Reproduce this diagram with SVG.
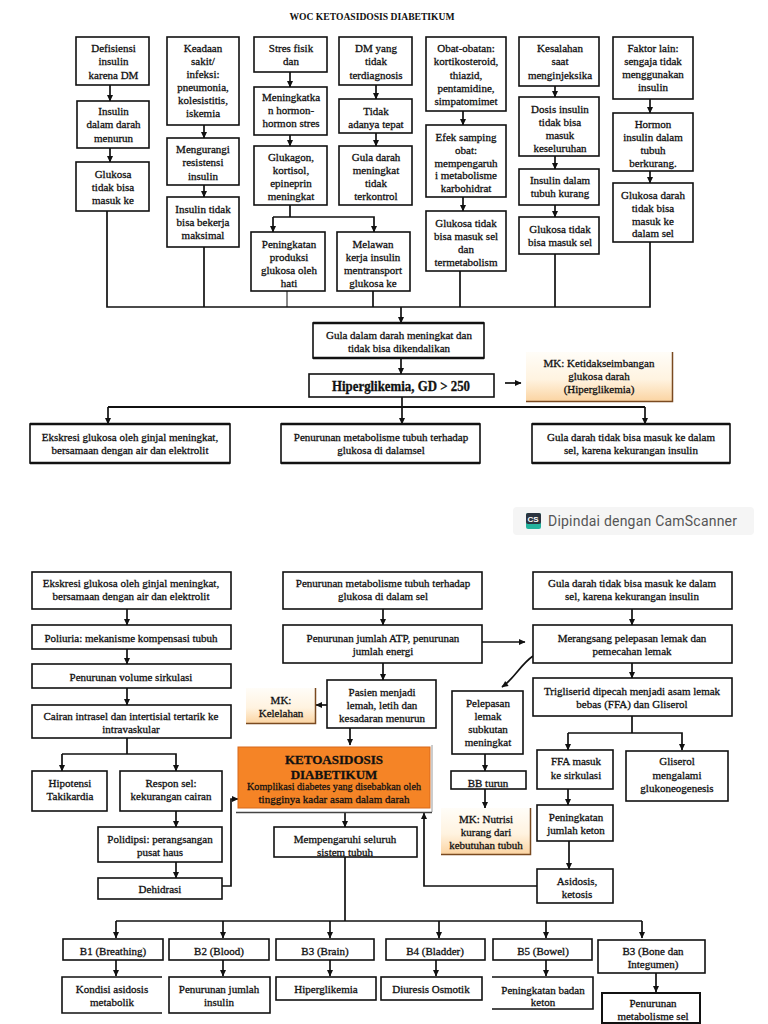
<svg xmlns="http://www.w3.org/2000/svg" width="768" height="1024" viewBox="0 0 768 1024">
<style>
text{font-family:"Liberation Serif","Times New Roman",serif;font-size:11px;fill:#111;text-anchor:middle;stroke:#111;stroke-width:.3}
.b{fill:#fff;stroke:#111;stroke-width:1.6}
.o{fill:none;stroke:#111;stroke-width:1.6}
.th{fill:none;stroke:#111;stroke-width:2.6}
.c{fill:none;stroke:#111;stroke-width:1.7}
.a{marker-end:url(#ah)}
.h{font-size:14px;font-weight:bold}
.k{font-size:13px;font-weight:bold}
.m{fill:url(#mk);stroke:none}
.ms{fill:none;stroke:#7a4a20;stroke-width:1.5}
.t{font-size:11px;font-weight:bold;stroke-width:0}
.cs{font-family:Roboto,"Liberation Sans",sans-serif;font-size:14px;fill:#555;stroke:none;text-anchor:start}
</style>
<defs>
<marker id="ah" markerUnits="userSpaceOnUse" markerWidth="8" markerHeight="8" refX="6.5" refY="4" orient="auto"><path d="M0.5 1L7 4L0.5 7Z" fill="#111"/></marker>
<linearGradient id="mk" x1="0" y1="0" x2="0" y2="1"><stop offset="0" stop-color="#fffdf8"/><stop offset=".55" stop-color="#fff3e0"/><stop offset="1" stop-color="#fbd3a0"/></linearGradient>
</defs>
<rect width="768" height="1024" fill="#fff"/>
<text id="title" class="t" x="372" y="20" textLength="165" lengthAdjust="spacingAndGlyphs">WOC KETOASIDOSIS DIABETIKUM</text>

<g id="connectors">
<path class="c a" d="M110 85V101"/><path class="c a" d="M110 148V162"/>
<path class="c a" d="M204 125V138"/><path class="c a" d="M204 185V197"/>
<path class="c a" d="M290 72V87"/><path class="c a" d="M290 135V146"/>
<path class="c" d="M290 205V217"/><path class="c a" d="M273 217H374V232"/><path class="c a" d="M273 217V232"/>
<path class="c a" d="M376 85V99"/><path class="c a" d="M376 133V146"/>
<path class="c a" d="M463 111V125"/><path class="c a" d="M463 197V211"/>
<path class="c a" d="M555 86V97"/><path class="c a" d="M555 156V169"/><path class="c a" d="M555 205V217"/>
<path class="c a" d="M650 99V113"/><path class="c a" d="M650 171V183"/>
<path class="c" d="M107 211V307H650V242"/>
<path class="c" d="M204 247V307"/><path class="c" style="stroke-width:1" d="M287 291V307"/><path class="c" d="M373 291V307"/><path class="c" d="M460 271V307"/><path class="c" d="M555 254V307"/>
<path class="c a" d="M401 307V323"/><path class="c a" d="M401 358V374"/>
<path class="c a" d="M505 383H521"/>
<path class="c a" d="M402 397V424"/><path class="c a" d="M108 407V424"/><path class="c a" d="M645 407V424"/><path class="c" style="stroke-width:2.2" d="M108 407H645"/>
<path class="c a" d="M127 609V625"/><path class="c a" d="M127 649V664"/><path class="c a" d="M127 688V705"/>
<path class="c" d="M127 738V754"/><path class="c a" d="M62 754H176V771"/><path class="c a" d="M62 754V771"/>
<path class="c a" d="M176 811V827"/><path class="c a" d="M176 862V878"/>
<path class="c a" d="M222 886H231V799H238"/>
<path class="c a" d="M383 609V625"/><path class="c a" d="M383 663V680"/>
<path class="c a" d="M327 705H316"/><path class="c a" d="M350 728V745"/>
<path class="c a" d="M345 813V827"/>
<path class="c" d="M345 857V921"/><path class="c" style="stroke-width:1.300" d="M116 921H642"/>
<path class="c a" d="M116 921V938"/><path class="c a" d="M223 921V938"/><path class="c a" d="M330 921V938"/><path class="c a" d="M439 921V938"/><path class="c a" d="M546 921V938"/><path class="c a" d="M642 921V938"/>
<path class="c a" d="M116 960V976"/><path class="c a" d="M223 960V976"/><path class="c a" d="M330 960V976"/><path class="c a" d="M436 960V976"/><path class="c a" d="M546 960V976"/><path class="c a" d="M656 973V992"/>
<path class="c a" d="M632 609V625"/><path class="c a" d="M632 663V678"/>
<path class="c a" d="M482 642H525"/>
<path class="c a" d="M533 656C520 665 515 678 502 687"/>
<path class="c a" d="M485 754V771"/><path class="c a" d="M485 789V808"/>
<path class="c" d="M632 716V733"/><path class="c a" d="M568 733H682V750"/><path class="c a" d="M568 733V750"/>
<path class="c a" d="M568 789V805"/><path class="c a" d="M569 841V869"/>
<path class="c a" d="M537 886H424V813"/>
</g>

<g id="n1"><rect class="b" x="76" y="37" width="73" height="48"/><text x="113.500" y="52">Defisiensi</text><text x="113.500" y="65">insulin</text><text x="113.500" y="79">karena DM</text></g>
<g id="n2"><rect class="b" x="77" y="101" width="72" height="47"/><text x="113.500" y="115">Insulin</text><text x="113.500" y="128">dalam darah</text><text x="113.500" y="142">menurun</text></g>
<g id="n3"><rect class="b" x="76" y="162" width="73" height="49"/><text x="113" y="178">Glukosa</text><text x="113" y="191">tidak bisa</text><text x="113" y="204">masuk ke</text></g>
<g id="n4"><rect class="b" x="167" y="37" width="72" height="88"/><text x="203" y="52">Keadaan</text><text x="203" y="65">sakit/</text><text x="203" y="78">infeksi:</text><text x="203" y="91">pneumonia,</text><text x="203" y="104">kolesistitis,</text><text x="203" y="117">iskemia</text></g>
<g id="n5"><rect class="b" x="167" y="138" width="72" height="47"/><text x="203" y="153">Mengurangi</text><text x="203" y="166">resistensi</text><text x="203" y="180">insulin</text></g>
<g id="n6"><rect class="b" x="167" y="197" width="72" height="50"/><text x="203" y="213">Insulin tidak</text><text x="203" y="226">bisa bekerja</text><text x="203" y="239">maksimal</text></g>
<g id="n7"><rect class="b" x="254" y="37" width="73" height="35"/><text x="291" y="52">Stres fisik</text><text x="291" y="65">dan</text></g>
<g id="n8"><rect class="b" x="254" y="87" width="73" height="48"/><text x="291" y="101">Meningkatka</text><text x="291" y="114">n hormon-</text><text x="291" y="127">hormon stres</text></g>
<g id="n9"><rect class="b" x="254" y="146" width="73" height="59"/><text x="291" y="161">Glukagon,</text><text x="291" y="174">kortisol,</text><text x="291" y="187">epineprin</text><text x="291" y="200">meningkat</text></g>
<g id="n10"><rect class="b" x="251" y="232" width="74" height="59"/><text x="289" y="248">Peningkatan</text><text x="289" y="261">produksi</text><text x="289" y="274">glukosa oleh</text><text x="289" y="287">hati</text></g>
<g id="n11"><rect class="b" x="337" y="232" width="73" height="59"/><text x="373" y="248">Melawan</text><text x="373" y="261">kerja insulin</text><text x="373" y="274">mentransport</text><text x="373" y="287">glukosa ke</text></g>
<g id="n12"><rect class="b" x="339" y="37" width="73" height="48"/><text x="376" y="52">DM yang</text><text x="376" y="65">tidak</text><text x="376" y="79">terdiagnosis</text></g>
<g id="n13"><rect class="b" x="339" y="99" width="73" height="34"/><text x="376" y="115">Tidak</text><text x="376" y="128">adanya tepat</text></g>
<g id="n14"><rect class="b" x="339" y="146" width="73" height="59"/><text x="376" y="161">Gula darah</text><text x="376" y="174">meningkat</text><text x="376" y="187">tidak</text><text x="376" y="200">terkontrol</text></g>
<g id="n15"><rect class="b" x="426" y="37" width="80" height="74"/><text x="466" y="52">Obat-obatan:</text><text x="466" y="65">kortikosteroid,</text><text x="466" y="79">thiazid,</text><text x="466" y="92">pentamidine,</text><text x="466" y="105">simpatomimet</text></g>
<g id="n16"><rect class="b" x="426" y="125" width="80" height="72"/><text x="466" y="141">Efek samping</text><text x="466" y="154">obat:</text><text x="466" y="167">mempengaruh</text><text x="466" y="179">i metabolisme</text><text x="466" y="192">karbohidrat</text></g>
<g id="n17"><rect class="b" x="426" y="211" width="80" height="60"/><text x="466" y="227">Glukosa tidak</text><text x="466" y="240">bisa masuk sel</text><text x="466" y="253">dan</text><text x="466" y="266">termetabolism</text></g>
<g id="n18"><rect class="b" x="519" y="37" width="80" height="49"/><text x="560" y="52">Kesalahan</text><text x="560" y="65">saat</text><text x="560" y="79">menginjeksika</text></g>
<g id="n19"><rect class="b" x="519" y="97" width="80" height="59"/><text x="560" y="113">Dosis insulin</text><text x="560" y="126">tidak bisa</text><text x="560" y="139">masuk</text><text x="560" y="152">keseluruhan</text></g>
<g id="n20"><rect class="b" x="519" y="169" width="80" height="36"/><text x="560" y="184">Insulin dalam</text><text x="560" y="197">tubuh kurang</text></g>
<g id="n21"><rect class="b" x="519" y="217" width="80" height="37"/><text x="560" y="233">Glukosa tidak</text><text x="560" y="246">bisa masuk sel</text></g>
<g id="n22"><rect class="b" x="613" y="37" width="80" height="62"/><text x="653" y="52">Faktor lain:</text><text x="653" y="65">sengaja tidak</text><text x="653" y="78">menggunakan</text><text x="653" y="91">insulin</text></g>
<g id="n23"><rect class="b" x="613" y="113" width="80" height="58"/><text x="653" y="128">Hormon</text><text x="653" y="141">insulin dalam</text><text x="653" y="154">tubuh</text><text x="653" y="167">berkurang.</text></g>
<g id="n24"><rect class="b" x="613" y="183" width="80" height="59"/><text x="653" y="199">Glukosa darah</text><text x="653" y="212">tidak bisa</text><text x="653" y="225">masuk ke</text><text x="653" y="237">dalam sel</text></g>

<g id="n25"><rect class="b" x="313" y="323" width="171" height="35"/><path class="th" d="M313 323H484M313 358H484"/><text x="399" y="339">Gula dalam darah meningkat dan</text><text x="399" y="352">tidak bisa dikendalikan</text></g>
<g id="n26"><rect class="b" x="309" y="374" width="185" height="23"/><text class="h" x="401" y="391" textLength="138" lengthAdjust="spacingAndGlyphs">Hiperglikemia, GD &gt; 250</text></g>
<g id="n27"><rect class="m" x="526" y="352" width="147" height="50"/><path class="ms" d="M526 401.500H672.500V352"/><text x="599" y="367">MK: Ketidakseimbangan</text><text x="599" y="380">glukosa darah</text><text x="599" y="393">(Hiperglikemia)</text></g>
<g id="n28"><rect class="b" x="30" y="424" width="200" height="39"/><path class="th" d="M30 424H230M30 463H230"/><text x="130" y="441">Ekskresi glukosa oleh ginjal meningkat,</text><text x="130" y="454">bersamaan dengan air dan elektrolit</text></g>
<g id="n29"><rect class="b" x="281" y="424" width="199" height="39"/><path class="th" d="M281 424H480M281 463H480"/><text x="381" y="441">Penurunan metabolisme tubuh terhadap</text><text x="381" y="454">glukosa di dalamsel</text></g>
<g id="n30"><rect class="b" x="532" y="424" width="198" height="39"/><path class="th" d="M532 424H730M532 463H730"/><text x="631" y="441">Gula darah tidak bisa masuk ke dalam</text><text x="631" y="454">sel, karena kekurangan insulin</text></g>

<g id="camscanner"><rect x="513" y="507" width="241" height="28" rx="4" fill="#f5f5f5"/><rect x="526" y="513" width="15" height="16" rx="2" fill="#25b39e"/><rect x="526" y="513" width="15" height="11" rx="2" fill="#2c3440"/><text x="527.500" y="522" style="font-family:'Liberation Sans',sans-serif;font-size:8px;font-weight:bold;fill:#fff;stroke:none;text-anchor:start">CS</text><text class="cs" x="548" y="526" textLength="189">Dipindai dengan CamScanner</text></g>

<g id="n31"><rect class="b" x="32" y="572" width="199" height="37"/><text x="131" y="587">Ekskresi glukosa oleh ginjal meningkat,</text><text x="131" y="600">bersamaan dengan air dan elektrolit</text></g>
<g id="n32"><rect class="b" x="32" y="625" width="199" height="24"/><text x="131" y="642">Poliuria: mekanisme kompensasi tubuh</text></g>
<g id="n33"><rect class="b" x="32" y="664" width="199" height="24"/><text x="131" y="681">Penurunan volume sirkulasi</text></g>
<g id="n34"><rect class="b" x="32" y="705" width="199" height="33"/><text x="131" y="720">Cairan intrasel dan intertisial tertarik ke</text><text x="131" y="733">intravaskular</text></g>
<g id="n35"><rect class="b" x="32" y="771" width="75" height="40"/><text x="70" y="787">Hipotensi</text><text x="70" y="800">Takikardia</text></g>
<g id="n36"><rect class="b" x="120" y="771" width="102" height="40"/><text x="171" y="787">Respon sel:</text><text x="171" y="800">kekurangan cairan</text></g>
<g id="n37"><rect class="b" x="98" y="827" width="124" height="35"/><text x="160" y="843">Polidipsi: perangsangan</text><text x="160" y="856">pusat haus</text></g>
<g id="n38"><rect class="b" x="98" y="878" width="124" height="21"/><text x="160" y="893">Dehidrasi</text></g>
<g id="n39"><rect class="b" x="283" y="572" width="199" height="37"/><text x="383" y="587">Penurunan metabolisme tubuh terhadap</text><text x="383" y="600">glukosa di dalam sel</text></g>
<g id="n40"><rect class="b" x="283" y="625" width="199" height="38"/><text x="383" y="642">Penurunan jumlah ATP, penurunan</text><text x="383" y="655">jumlah energi</text></g>
<g id="n41"><rect class="b" x="327" y="680" width="109" height="48"/><text x="382" y="696">Pasien menjadi</text><text x="382" y="709">lemah, letih dan</text><text x="382" y="722">kesadaran menurun</text></g>
<g id="n42"><rect class="m" x="246" y="688" width="70" height="36"/><path class="ms" d="M246 723.500H315.500V688"/><text x="281" y="704">MK:</text><text x="281" y="717">Kelelahan</text></g>
<g id="n43"><path fill="none" stroke="#bbb" stroke-width="1.500" d="M432 745V812"/><path fill="none" stroke="#444" stroke-width="1.500" d="M236 812.500H432"/><rect x="238" y="747" width="192" height="61" fill="#f58426" stroke="#d8681a" stroke-width="1"/><text class="k" x="334" y="764">KETOASIDOSIS</text><text class="k" x="334" y="779">DIABETIKUM</text><text x="334" y="790" textLength="174" lengthAdjust="spacingAndGlyphs">Komplikasi diabetes yang disebabkan oleh</text><text x="334" y="803">tingginya kadar asam dalam darah</text></g>
<g id="n44"><rect class="b" x="274" y="827" width="143" height="30"/><text x="345" y="843">Mempengaruhi seluruh</text><text x="345" y="856">sistem tubuh</text></g>
<g id="n45"><rect class="b" x="533" y="572" width="199" height="37"/><text x="632" y="587">Gula darah tidak bisa masuk ke dalam</text><text x="632" y="600">sel, karena kekurangan insulin</text></g>
<g id="n46"><rect class="b" x="533" y="625" width="199" height="38"/><text x="632" y="642">Merangsang pelepasan lemak dan</text><text x="632" y="655">pemecahan lemak</text></g>
<g id="n47"><rect class="b" x="533" y="678" width="199" height="38"/><text x="632" y="695">Trigliserid dipecah menjadi asam lemak</text><text x="632" y="708">bebas (FFA) dan Gliserol</text></g>
<g id="n48"><rect class="b" x="452" y="691" width="71" height="63"/><text x="488" y="707">Pelepasan</text><text x="488" y="720">lemak</text><text x="488" y="733">subkutan</text><text x="488" y="746">meningkat</text></g>
<g id="n49"><rect class="b" x="451" y="771" width="75" height="18"/><text x="488" y="787">BB turun</text></g>
<g id="n50"><rect class="m" x="441" y="808" width="90" height="47"/><path class="ms" d="M441 854.500H530.500V808"/><text x="486" y="823">MK: Nutrisi</text><text x="486" y="836">kurang dari</text><text x="486" y="849">kebutuhan tubuh</text></g>
<g id="n51"><rect class="b" x="537" y="750" width="76" height="39"/><text x="576" y="765">FFA masuk</text><text x="576" y="779">ke sirkulasi</text></g>
<g id="n52"><rect class="b" x="626" y="751" width="102" height="50"/><text x="677" y="765">Gliserol</text><text x="677" y="779">mengalami</text><text x="677" y="792">glukoneogenesis</text></g>
<g id="n53"><rect class="b" x="537" y="805" width="76" height="36"/><text x="576" y="821">Peningkatan</text><text x="576" y="834">jumlah keton</text></g>
<g id="n54"><rect class="b" x="537" y="869" width="76" height="34"/><text x="577" y="885">Asidosis,</text><text x="577" y="898">ketosis</text></g>

<g id="n55"><rect class="b" x="63" y="939" width="100" height="21"/><text x="113" y="955">B1 (Breathing)</text></g>
<g id="n56"><rect class="b" x="169" y="939" width="100" height="21"/><text x="219" y="955">B2 (Blood)</text></g>
<g id="n57"><rect class="b" x="276" y="939" width="98" height="21"/><text x="325" y="955">B3 (Brain)</text></g>
<g id="n58"><rect class="b" x="386" y="939" width="99" height="21"/><text x="435" y="955">B4 (Bladder)</text></g>
<g id="n59"><rect class="b" x="493" y="939" width="99" height="21"/><text x="543" y="955">B5 (Bowel)</text></g>
<g id="n60"><rect class="b" x="598" y="940" width="107" height="33"/><text x="653" y="955">B3 (Bone dan</text><text x="653" y="968">Integumen)</text></g>
<g id="n61"><path class="o" d="M162 977H62V1013H162"/><text x="112" y="993">Kondisi asidosis</text><text x="112" y="1006">metabolik</text></g>
<g id="n62"><rect class="b" x="169" y="977" width="101" height="36"/><text x="219" y="993">Penurunan jumlah</text><text x="219" y="1006">insulin</text></g>
<g id="n63"><rect class="b" x="276" y="977" width="100" height="23"/><text x="326" y="993">Hiperglikemia</text></g>
<g id="n64"><rect class="b" x="381" y="977" width="101" height="23"/><text x="431" y="993">Diuresis Osmotik</text></g>
<g id="n65"><path class="o" d="M492 977H593V1009H492"/><text x="543" y="994">Peningkatan badan</text><text x="543" y="1006">keton</text></g>
<g id="n66"><rect class="b" style="stroke-width:2" x="602" y="993" width="98" height="30"/><text x="653" y="1007">Penurunan</text><text x="653" y="1020">metabolisme sel</text></g>
</svg>
